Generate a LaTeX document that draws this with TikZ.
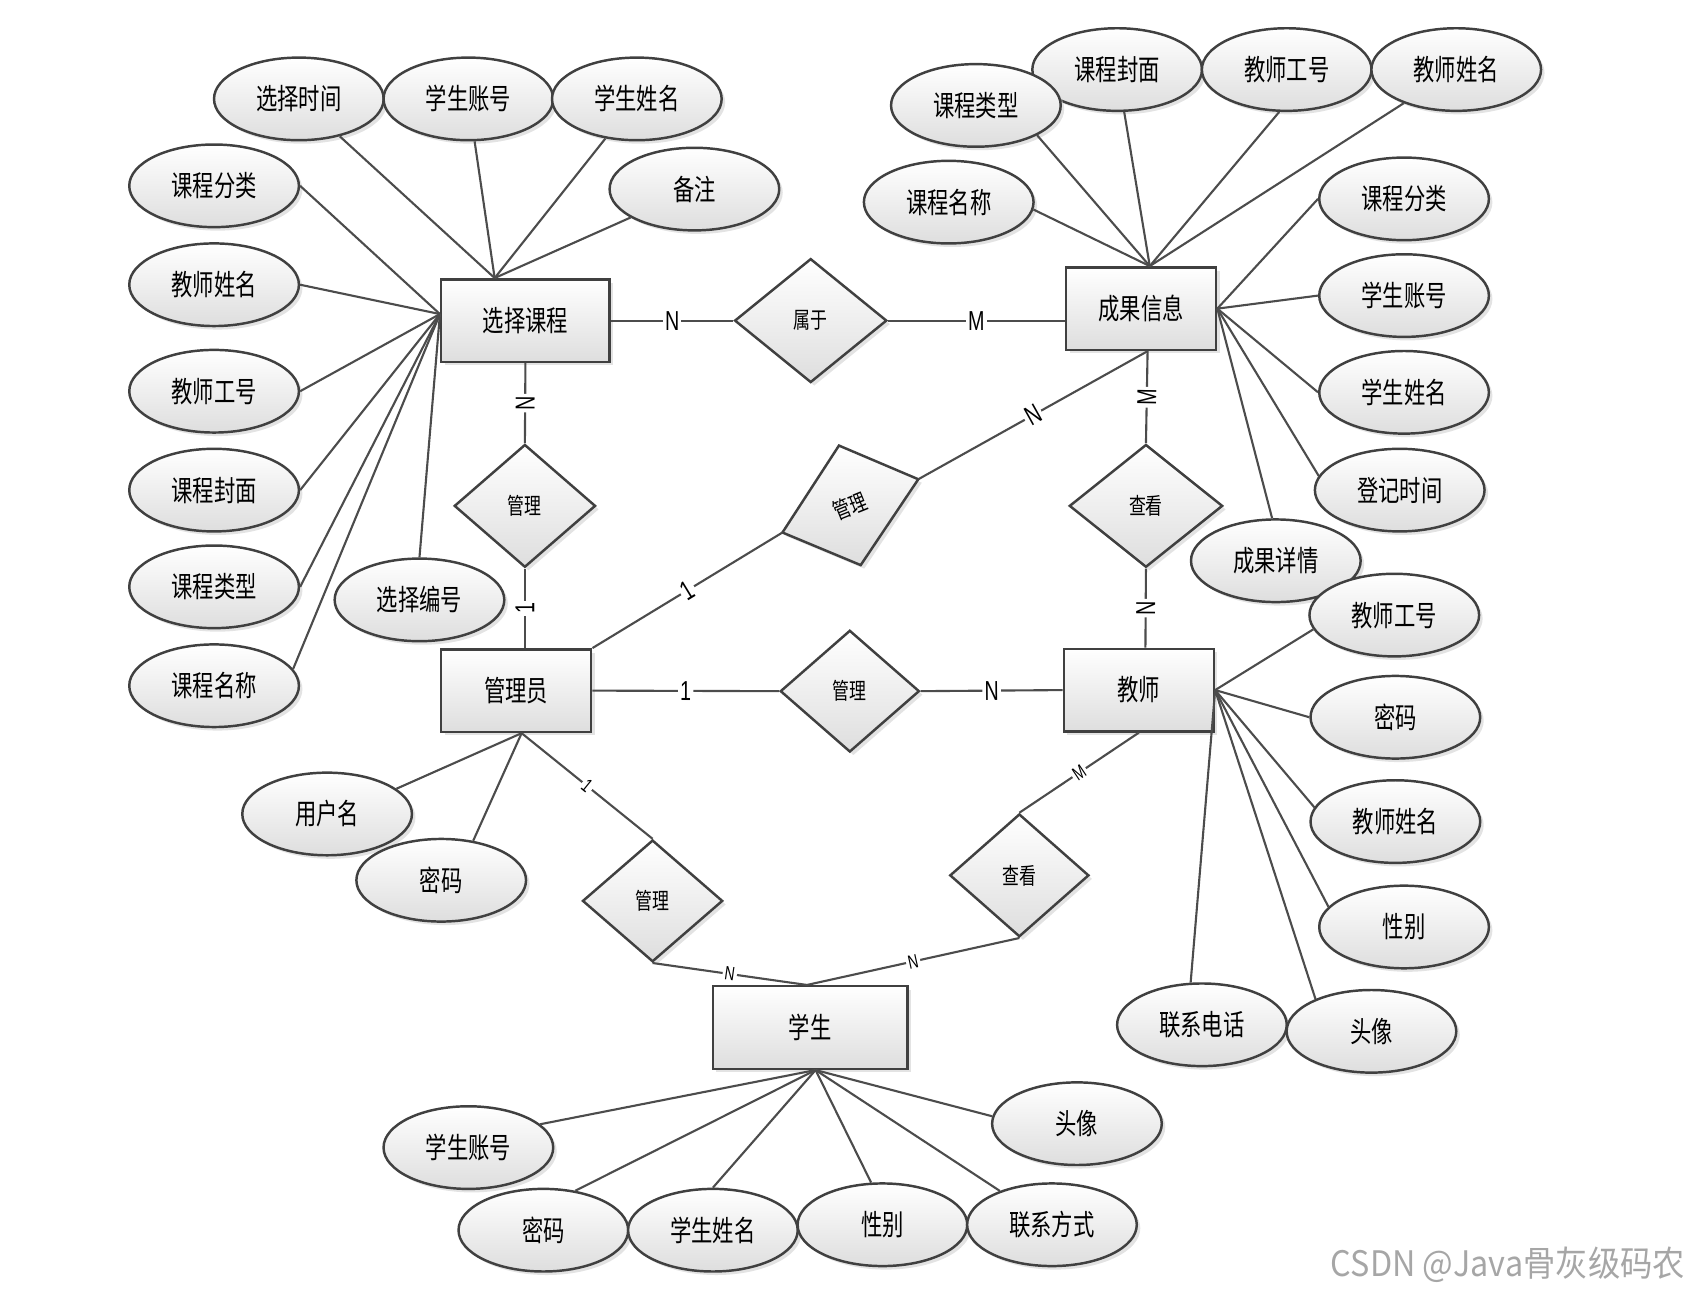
\documentclass[tikz,border=0pt]{standalone}
\usepackage{fontspec}
\newfontfamily\cjk[FakeStretch=0.74]{Noto Sans CJK SC}
\newfontfamily\wmfont[FakeStretch=0.92]{Noto Sans CJK SC}
\newfontfamily\cardfont[FakeStretch=0.72]{Liberation Sans}
\usetikzlibrary{shapes.geometric,shadows,calc}

\tikzset{
  box/.style={draw=black!75, line width=0.7pt, top color=white, bottom color=black!13,
    drop shadow={shadow xshift=1pt, shadow yshift=-1pt, fill=black!22}},
  entity/.style={box, rectangle, minimum height=0.826cm, inner sep=0pt,
    font=\cjk\fontsize{8.2}{9}\selectfont},
  attrib/.style={box, ellipse, minimum width=1.696cm, minimum height=0.826cm, inner sep=0pt,
    font=\cjk\fontsize{8.2}{9}\selectfont},
  rel/.style={box, diamond, inner sep=0pt, font=\cjk\fontsize{6.5}{7}\selectfont},
  link/.style={draw=black!70, line width=0.6pt},
  card/.style={fill=white, inner sep=0.6pt, sloped, font=\cardfont\fontsize{7.8}{8}\selectfont},
  cardsm/.style={card, font=\cardfont\fontsize{5.5}{6}\selectfont}
}

\begin{document}
\begin{tikzpicture}[x=0.01087cm,y=-0.01087cm]
\useasboundingbox (0,0) rectangle (1568,1190);

% entities
\node[entity, minimum width=1.685cm] (xk) at (483.5,295) {选择课程};
\node[entity, minimum width=1.50cm] (cg) at (1050,284) {成果信息};
\node[entity, minimum width=1.50cm] (gly) at (475,635.5) {管理员};
\node[entity, minimum width=1.50cm] (js) at (1048,635) {教师};
\node[entity, minimum width=1.946cm] (st) at (745.5,945.5) {学生};

% relationships
\node[rel, minimum width=1.522cm, minimum height=1.239cm] (sy) at (746,295) {属于};
\node[rel, minimum width=1.413cm, minimum height=1.228cm] (gm1) at (483,465.5) {管理};
\node[rel, minimum width=1.533cm, minimum height=1.228cm] (ck1) at (1054.5,465.5) {查看};
\node[rel, minimum width=1.391cm, minimum height=1.217cm] (gm3) at (782,636) {管理};
\node[rel, minimum width=1.402cm, minimum height=1.217cm] (gm4) at (600.5,829) {管理};
\node[rel, minimum width=1.391cm, minimum height=1.228cm] (ck2) at (938,805.5) {查看};
\coordinate (gm2-t) at (772,410);
\coordinate (gm2-r) at (845,441);
\coordinate (gm2-b) at (792,520);
\coordinate (gm2-l) at (720,490);
\path[box] (gm2-t) -- (gm2-r) -- (gm2-b) -- (gm2-l) -- cycle;
\node[rotate=22, font=\cjk\fontsize{6.5}{7}\selectfont] (gm2) at (782,466) {管理};

% attributes of 选择课程
\node[attrib] (xa1) at (275,91) {选择时间};
\node[attrib] (xa2) at (431,91) {学生账号};
\node[attrib] (xa3) at (586,91) {学生姓名};
\node[attrib] (xa4) at (639,174) {备注};
\node[attrib] (xa5) at (197,171) {课程分类};
\node[attrib] (xa6) at (197,262) {教师姓名};
\node[attrib] (xa7) at (197,360) {教师工号};
\node[attrib] (xa8) at (197,451) {课程封面};
\node[attrib] (xa9) at (197,540) {课程类型};
\node[attrib] (xa10) at (197,631) {课程名称};
\node[attrib] (xa11) at (386,552) {选择编号};

% attributes of 成果信息
\node[attrib] (ca2) at (1028,64) {课程封面};
\node[attrib] (ca1) at (898,97) {课程类型};
\node[attrib] (ca3) at (1184,64) {教师工号};
\node[attrib] (ca4) at (1340,64) {教师姓名};
\node[attrib] (ca5) at (873,186) {课程名称};
\node[attrib] (ca6) at (1292,183) {课程分类};
\node[attrib] (ca7) at (1292,272) {学生账号};
\node[attrib] (ca8) at (1292,361) {学生姓名};
\node[attrib] (ca9) at (1288,451) {登记时间};
\node[attrib] (ca10) at (1174,516) {成果详情};

% attributes of 教师
\node[attrib] (ja1) at (1283,566) {教师工号};
\node[attrib] (ja2) at (1284,660) {密码};
\node[attrib] (ja3) at (1284,756) {教师姓名};
\node[attrib] (ja4) at (1292,853) {性别};
\node[attrib] (ja6) at (1106,943) {联系电话};
\node[attrib] (ja5) at (1262,949) {头像};

% attributes of 管理员
\node[attrib] (ga1) at (301,749) {用户名};
\node[attrib] (ga2) at (406,810) {密码};

% attributes of 学生
\node[attrib] (sa1) at (431,1056) {学生账号};
\node[attrib] (sa2) at (500,1132) {密码};
\node[attrib] (sa3) at (656,1132) {学生姓名};
\node[attrib] (sa4) at (812,1127) {性别};
\node[attrib] (sa5) at (968,1127) {联系方式};
\node[attrib] (sa6) at (991,1034) {头像};

% attribute links
\coordinate (xk-t) at ($(xk.north west)!0.32!(xk.north east)$);
\coordinate (xk-l) at ($(xk.west)+(0,-6)$);
\draw[link] (xa1) -- (xk-t);
\draw[link] (xa2) -- (xk-t);
\draw[link] (xa3) -- (xk-t);
\draw[link] (xa4) -- (xk-t);
\draw[link] (xa5.east) -- (xk-l);
\draw[link] (xa6.east) -- (xk-l);
\draw[link] (xa7.east) -- (xk-l);
\draw[link] (xa8.east) -- (xk-l);
\draw[link] (xa9.east) -- (xk-l);
\draw[link] (xa10.12) -- (xk-l);
\draw[link] (xa11.north) -- (xk-l);

\coordinate (cg-t) at ($(cg.north)+(8,0)$);
\draw[link] (ca5.-5) -- (cg-t);
\draw[link] (ca1.-26) -- (cg-t);
\draw[link] (ca2) -- (cg-t);
\draw[link] (ca3.-100) -- (cg-t);
\draw[link] (ca4) -- (cg-t);
\draw[link] (ca6.west) -- (cg.east);
\draw[link] (ca7.west) -- (cg.east);
\draw[link] (ca8.west) -- (cg.east);
\draw[link] (ca9.170) -- (cg.east);
\draw[link] (ca10.95) -- (cg.east);

\draw[link] (js.east) -- (ja1.190);
\draw[link] (js.east) -- (ja2.west);
\draw[link] (js.east) -- (ja3.170);
\draw[link] (js.east) -- (ja4.165);
\draw[link] (js.east) -- (ja5.150);
\draw[link] (js.east) -- (ja6.105);

\coordinate (gly-b) at ($(gly.south)+(5,0)$);
\draw[link] (gly-b) -- (ga1.20);
\draw[link] (gly-b) -- (ga2.51);

\coordinate (st-b) at ($(st.south)+(5,0)$);
\draw[link] (st-b) -- (sa1.18);
\draw[link] (st-b) -- (sa2.51);
\draw[link] (st-b) -- (sa3.north);
\draw[link] (st-b) -- (sa4.105);
\draw[link] (st-b) -- (sa5.147);
\draw[link] (st-b) -- (sa6.175);

% relationship links
\coordinate (cg-l) at ($(cg.west)+(0,11)$);
\coordinate (cg-b) at ($(cg.south)+(6,0)$);
\coordinate (gly-t) at ($(gly.north)+(8,0)$);
\coordinate (js-t) at ($(js.north)+(6,0)$);
\coordinate (st-t) at ($(st.north)+(-3,0)$);
\draw[link] (xk.east) -- node[card]{N} (sy.west);
\draw[link] (sy.east) -- node[card]{M} (cg-l);
\draw[link] (gm1.north) -- node[card]{N} (xk.south);
\draw[link] (gly-t) -- node[card]{1} (gm1.south);
\draw[link] (gly.north east) -- node[card]{1} (gm2-l);
\draw[link] (gm2-r) -- node[card]{N} (cg-b);
\draw[link] (ck1.north) -- node[card]{M} (cg-b);
\draw[link] (js-t) -- node[card]{N} (ck1.south);
\draw[link] (gly.east) -- node[card]{1} (gm3.west);
\draw[link] (gm3.east) -- node[card]{N} (js.west);
\draw[link] (gly-b) -- node[cardsm]{1} (gm4.north);
\draw[link] (gm4.south) -- node[cardsm]{N} (st-t);
\draw[link] (js.south) -- node[cardsm]{M} (ck2.north);
\draw[link] (ck2.south) -- node[cardsm]{N} (st-t);

\node[anchor=east, text=black!35, font=\wmfont\fontsize{10}{11}\selectfont] (wm) at (1562,1164) {CSDN @Java骨灰级码农};
\end{tikzpicture}
\end{document}
